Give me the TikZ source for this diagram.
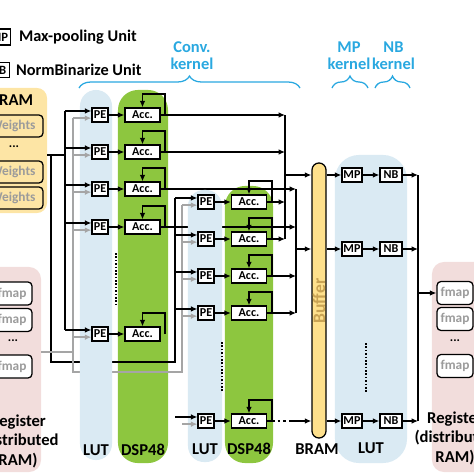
\documentclass[tikz,border=0pt]{standalone}
\usepackage{fontspec}
\setmainfont{Carlito}
\usetikzlibrary{positioning,arrows.meta,calc,decorations.pathreplacing}
\definecolor{lutblue}{RGB}{218,234,243}
\definecolor{dspgreen}{RGB}{141,198,63}
\definecolor{bramyellow}{RGB}{253,229,165}
\definecolor{bufyellow}{RGB}{254,224,140}
\definecolor{regpink}{RGB}{242,221,220}
\definecolor{kernblue}{RGB}{41,168,224}
\definecolor{buftext}{RGB}{201,163,84}
\definecolor{wiregray}{RGB}{165,165,165}
\definecolor{memtext}{RGB}{155,155,155}
\pgfdeclarelayer{back}
\pgfdeclarelayer{wires}
\pgfdeclarelayer{cols}
\pgfsetlayers{back,wires,cols,main}
\begin{document}
\begin{tikzpicture}[
  x=0.025cm,y=-0.025cm,
  font=\bfseries,
  unit/.style={rectangle,draw,fill=white,line width=0.9pt,inner sep=0pt,minimum height=0.35cm,font=\fontsize{8.6}{9}\selectfont\bfseries},
  pe/.style={unit,minimum width=0.4cm},
  acc/.style={unit,minimum width=0.875cm},
  mpbox/.style={unit,minimum width=0.5cm},
  nbbox/.style={unit,minimum width=0.55cm},
  mem/.style={rectangle,draw,rounded corners=0.1cm,line width=0.9pt,inner sep=0pt,minimum width=0.9cm,minimum height=0.575cm,text=memtext,font=\fontsize{9.5}{10}\selectfont\bfseries},
  block/.style={rectangle,inner sep=0pt,rounded corners=0.25cm},
  lutcol/.style={block,fill=lutblue,rounded corners=0.4cm},
  dspcol/.style={block,fill=dspgreen,rounded corners=0.5cm},
  lab/.style={inner sep=0pt,align=center,font=\fontsize{11.8}{13.9}\selectfont\bfseries},
  legtext/.style={inner sep=0pt,font=\fontsize{11.6}{13}\selectfont\bfseries},
  kern/.style={inner sep=0pt,align=center,text=kernblue,font=\fontsize{11.7}{12.1}\selectfont\bfseries},
  kbrace/.style={draw=kernblue,line width=0.9pt,decorate,decoration={brace,amplitude=0.3cm}},
  wire/.style={line width=1.15pt},
  arrow/.style={wire,-{Latex[length=1.6mm,width=1.4mm]}},
  garrow/.style={arrow,draw=wiregray},
  dots/.style={line width=1.4pt,dash pattern=on 1.2pt off 1.2pt}
]
\useasboundingbox (0,0) rectangle (474,474);

% legend and kernel labels
\node[unit,minimum width=0.5625cm,minimum height=0.4cm,font=\fontsize{9}{10}\selectfont\bfseries] (legmp) at (-0.75,37) {MP};
\node[legtext,right=0.19cm of legmp] (legmptext) {Max-pooling Unit};
\node[unit,minimum width=0.55cm,minimum height=0.375cm,font=\fontsize{9}{10}\selectfont\bfseries] (legnb) at (-1.5,70) {NB};
\node[legtext,right=0.14cm of legnb] (legnbtext) {NormBinarize Unit};
\node[kern] (convlab) at (192,56) {Conv.\\kernel};
\node[kern] (mplab) at (349,56) {MP\\kernel};
\node[kern] (nblab) at (393.5,56) {NB\\kernel};
\draw[kbrace] (79,88) -- (300,88);
\draw[kbrace] (332,88) -- (368,88);
\draw[kbrace] (375,88) -- (410,88);

% memories and columns
\begin{pgfonlayer}{back}
\node[block,fill=bramyellow,minimum width=1.675cm,minimum height=3.125cm] (bram) at (13.5,150.5) {};
\node[block,fill=regpink,rounded corners=0.3cm,minimum width=1.525cm,minimum height=5.125cm] (regl) at (10.5,369.5) {};
\node[block,fill=regpink,rounded corners=0.3cm,minimum width=1.575cm,minimum height=5.25cm] (regr) at (463.5,367) {};
\node[dspcol,minimum width=1.25cm,minimum height=9.325cm] (dsp1) at (143,276.5) {};
\node[dspcol,minimum width=1.2cm,minimum height=6.925cm] (dsp2) at (249,324.5) {};
\end{pgfonlayer}
\begin{pgfonlayer}{cols}
\node[lutcol,minimum width=0.8cm,minimum height=9.25cm] (lut1) at (96,275) {};
\node[lutcol,minimum width=0.85cm,minimum height=6.8cm] (lut2) at (205,326) {};
\node[lutcol,rounded corners=0.6cm,minimum width=1.8cm,minimum height=7.7cm] (lut3) at (371,309) {};
\end{pgfonlayer}
\node[rectangle,draw,fill=bufyellow,line width=0.9pt,rounded corners=0.175cm,inner sep=0pt,minimum width=0.35cm,minimum height=6.875cm] (buf) at (319,300.5) {};
\node[lab,rotate=90,text=buftext,font=\fontsize{12.5}{13}\selectfont\bfseries] (buflab) at (319,301) {Buffer};

\node[lab] (bramlab) at (11.5,100.5) {BRAM};
\node[mem,fill=bramyellow,minimum width=1.5cm,minimum height=0.55cm] (w1) at (13,126) {Weights};
\node[lab,font=\fontsize{9}{10}\selectfont\bfseries] (wdots) at (14,147) {...};
\node[mem,fill=bramyellow,minimum width=1.5cm,minimum height=0.55cm] (w2) at (13,172) {Weights};
\node[mem,fill=bramyellow,minimum width=1.5cm,minimum height=0.55cm] (w3) at (13,198) {Weights};
\node[mem,fill=white,minimum width=1cm] (fl1) at (12,293.5) {fmap};
\node[mem,fill=white,minimum width=1cm] (fl2) at (12,320) {fmap};
\node[lab,font=\fontsize{9}{10}\selectfont\bfseries] (fldots) at (13,341) {...};
\node[mem,fill=white,minimum width=1cm] (fl3) at (12,366.5) {fmap};
\node[mem,fill=white] (fr1) at (455,293) {fmap};
\node[mem,fill=white] (fr2) at (455,319) {fmap};
\node[lab,font=\fontsize{9}{10}\selectfont\bfseries] (frdots) at (455,341) {...};
\node[mem,fill=white] (fr3) at (455,366) {fmap};
\node[lab] (regllab) at (18,441) {Register\\(distributed\\RAM)};
\node[lab] (regrlab) at (455,438) {Register\\(distributed\\RAM)};

\node[lab] (tlut1) at (96,450) {LUT};
\node[lab] (tdsp1) at (143,450) {DSP48};
\node[lab] (tlut2) at (205,449) {LUT};
\node[lab] (tdsp2) at (249,449) {DSP48};
\node[lab] (tbram) at (317,449) {BRAM};
\node[lab] (tlut3) at (371,448) {LUT};

% bus positions
\coordinate (wb0) at (51,0);
\coordinate (wb1) at (65,0);
\coordinate (gb1) at (73,0);
\coordinate (wb2) at (175,0);
\coordinate (gb2) at (182,0);
\coordinate (lp1) at (165,0);
\coordinate (lp2) at (272,0);
\coordinate (suma) at (285,0);
\coordinate (sumb) at (296,0);
\coordinate (outb) at (418,0);
\coordinate (wsplit) at (65,155);
\coordinate (wlow) at (51,362);
\coordinate (gsrc) at (73,352);
\coordinate (glow) at (73,372);

\foreach \i/\y in {1/115,2/152,3/189,4/227,5/334} {
  \node[pe] (pa\i) at (100,\y) {PE};
  \node[acc] (aa\i) at (142.5,\y) {Acc.};
  \draw[arrow] (pa\i) -- (aa\i);
  \draw[arrow] (aa\i.east -| lp1) -- ++(0,-21) -| (aa\i.north);
  \draw[arrow] (wb1 |- pa\i.155) -- (pa\i.155);
  \draw[garrow] (gb1 |- pa\i.200) -- (pa\i.200);
}
\foreach \i/\y in {1/202,2/239,3/276,4/313,5/421} {
  \node[pe] (pb\i) at (206,\y) {PE};
  \node[acc] (ab\i) at (249,\y) {Acc.};
  \draw[arrow] (pb\i) -- (ab\i);
  \draw[arrow] (ab\i.east -| lp2) -- ++(0,-21) -| (ab\i.north);
  \draw[arrow] (wb2 |- pb\i.155) -- (pb\i.155);
  \draw[garrow] (gb2 |- pb\i.200) -- (pb\i.200);
}
\foreach \i/\y in {1/175,2/249,3/421} {
  \node[mpbox] (mp\i) at (352,\y) {MP};
  \node[nbbox] (nb\i) at (391,\y) {NB};
  \draw[arrow] (buf.east |- mp\i) -- (mp\i);
  \draw[arrow] (mp\i) -- (nb\i);
  \draw[arrow] (nb\i) -- (nb\i -| outb);
}

\begin{pgfonlayer}{wires}
\draw[wire] (bram.east |- wsplit) -- (wsplit);
\draw[wire] (wb1 |- pa1.155) -- (wb1 |- pa5.155);
\draw[wire] (wb0 |- wsplit) -- (wlow) -| (wb2 |- pb1.155);
\draw[wire,wiregray] (regl.east |- gsrc) -- (gsrc);
\draw[wire,wiregray] (gb1 |- pa1.200) -- (glow) -| (gb2 |- pb1.200);
\foreach \i in {1,2} {
  \draw[arrow] (aa\i) -- (aa\i -| suma);
  \draw[arrow] (ab\i) -- (ab\i -| suma);
}
\foreach \i in {3,4} {
  \draw[arrow] (aa\i) -- (aa\i -| sumb);
  \draw[arrow] (ab\i) -- (ab\i -| sumb);
}
\end{pgfonlayer}
\draw[wire] (suma |- aa1) -- (suma |- ab2);
\draw[wire] (sumb |- aa3) -- (sumb |- ab4);
\draw[arrow] (suma |- mp1) -- (buf.west |- mp1);
\draw[arrow] (sumb |- mp2) -- (buf.west |- mp2);
\draw[wire] (ab5) -- (ab5 -| lp2);
\draw[wire,dash pattern=on 2pt off 2pt] (ab5 -| lp2) -- ++(20,0) coordinate (dend);
\draw[arrow] (dend) -- (buf.west |- ab5);
\draw[wire] (outb |- nb1) -- (outb |- nb3);
\draw[arrow] (outb |- fr1) -- (fr1);

\draw[dots] (116,253) -- (116,305);
\draw[dots] (222,342) -- (222,392);
\draw[dots] (366,343) -- (366,393);
\end{tikzpicture}
\end{document}
